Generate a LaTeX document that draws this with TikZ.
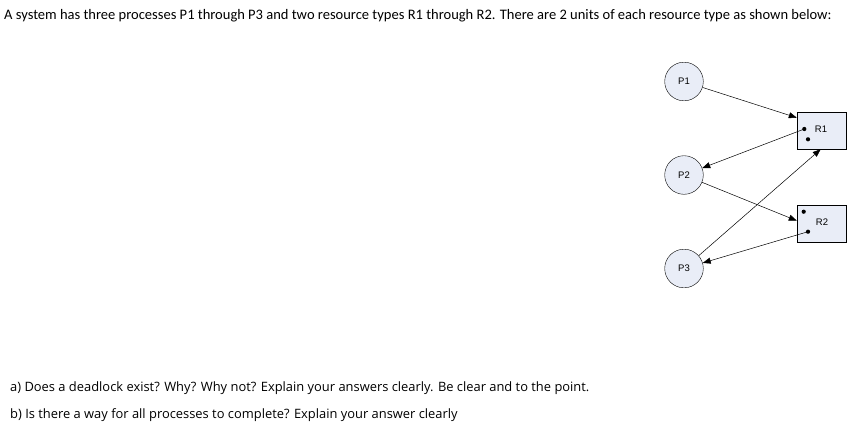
\documentclass[tikz,border=0pt]{standalone}
\usepackage{fontspec}
\setmainfont{Carlito}
\newfontfamily\osfont{Open Sans}
\newfontfamily\arfont{Liberation Sans}
\usetikzlibrary{arrows.meta}
\definecolor{nodefill}{HTML}{E9EDF7}
\begin{document}
\begin{tikzpicture}[x=1pt,y=-1pt,
  proc/.style={circle,draw=black,fill=nodefill,minimum size=38.6pt,inner sep=0pt,font=\arfont\fontsize{9.5}{11}\selectfont},
  res/.style={rectangle,draw=black,fill=nodefill,minimum width=49pt,minimum height=37pt,inner sep=0pt},
  unit/.style={circle,fill=black,inner sep=0pt,minimum size=4.2pt},
  edge/.style={-{Triangle[length=8pt,width=6pt]},line width=0.5pt},
  lbl/.style={font=\arfont\fontsize{9.5}{11}\selectfont,inner sep=0pt}]
\useasboundingbox (0,0) rectangle (866,439);
\fill[white] (0,0) rectangle (866,439);
\node[anchor=base west,inner sep=0pt,font=\fontsize{14.52}{16}\selectfont] (hdr) at (4,19) {A system has three processes P1 through P3 and two resource types R1 through R2. There are 2 units of each resource type as shown below:};
\node[anchor=base west,inner sep=0pt,font=\osfont\fontsize{12.9}{15}\selectfont] (qa) at (10,391) {a) Does a deadlock exist? Why? Why not? Explain your answers clearly. Be clear and to the point.};
\node[anchor=base west,inner sep=0pt,font=\osfont\fontsize{12.9}{15}\selectfont] (qb) at (10,418) {b) Is there a way for all processes to complete? Explain your answer clearly};
\node[proc] (P1) at (684,81.5) {P1};
\node[proc] (P2) at (684,175) {P2};
\node[proc] (P3) at (684,268.5) {P3};
\node[res] (R1) at (821.5,130.5) {};
\node[res] (R2) at (821.5,223.5) {};
\node[lbl] (R1l) at (821,129.5) {R1};
\node[lbl] (R2l) at (822,222.5) {R2};
\node[unit] (R1a) at (804.3,129) {};
\node[unit] (R1b) at (808,139.3) {};
\node[unit] (R2a) at (803.7,211.7) {};
\node[unit] (R2b) at (808,231.7) {};
\draw[edge] (P1) -- (R1.west |- 0,117.7);
\draw[edge] (R1a.center) -- (P2);
\draw[edge] (P2) -- (R2.west |- 0,220.7);
\draw[edge] (R2b.center) -- (P3);
\draw[edge] (P3) -- (R1.south -| 820.7,0);
\end{tikzpicture}
\end{document}
